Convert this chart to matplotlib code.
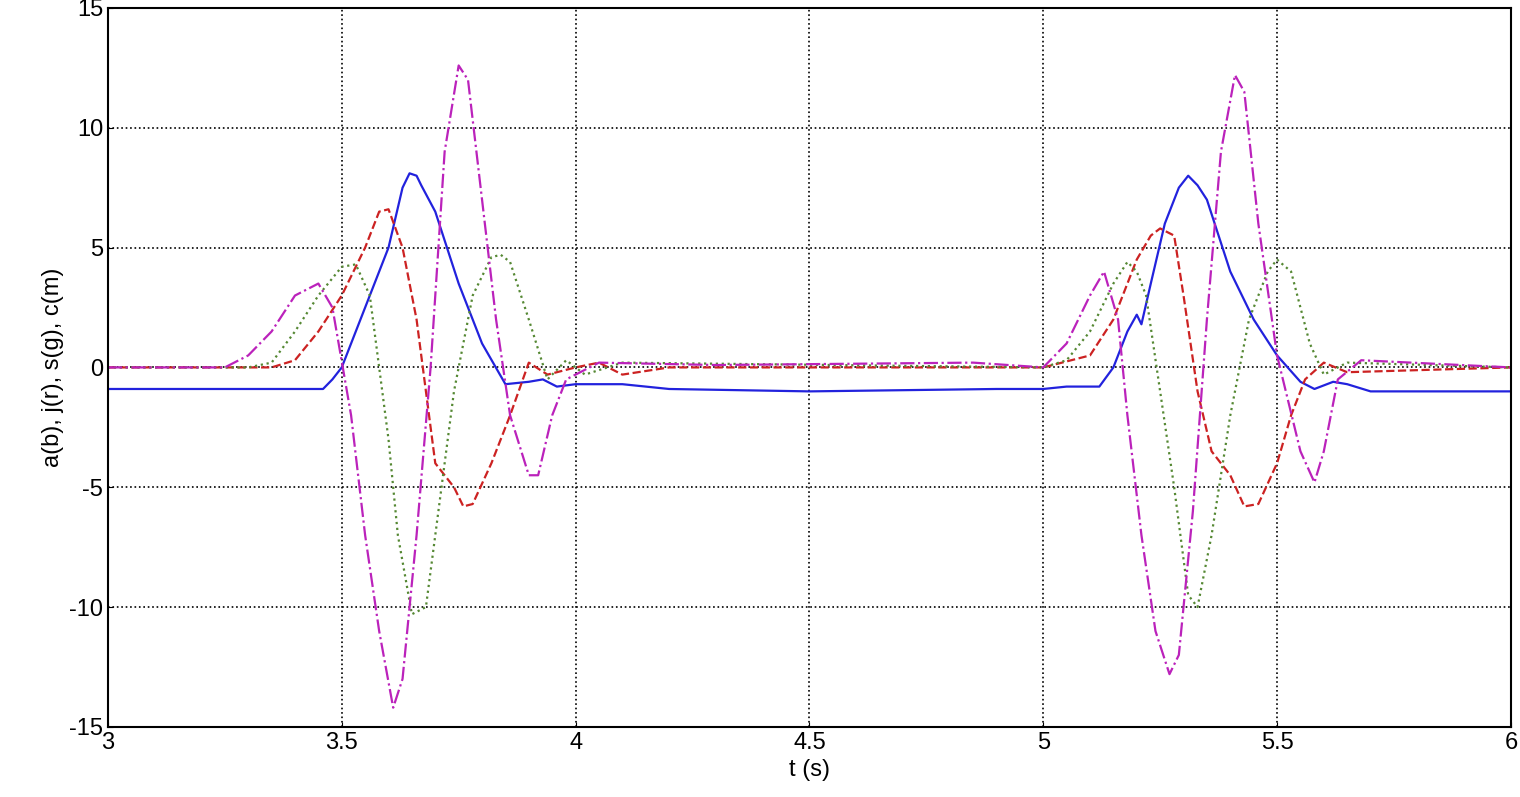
import matplotlib
matplotlib.use("Agg")
import matplotlib.pyplot as plt

plt.rcParams['font.family'] = ['Liberation Sans', 'DejaVu Sans']
plt.rcParams['axes.unicode_minus'] = False

# blue: a
a_t = [3.0, 3.46, 3.48, 3.5, 3.55, 3.6, 3.63, 3.645, 3.66, 3.67, 3.7, 3.75, 3.8, 3.85, 3.9, 3.93,
       3.96, 4.0, 4.1, 4.2, 4.5, 4.9, 5.0, 5.05, 5.12, 5.15, 5.18, 5.2, 5.21, 5.23, 5.26, 5.29,
       5.31, 5.33, 5.35, 5.4, 5.45, 5.5, 5.55, 5.58, 5.62, 5.65, 5.7, 6.0]
a_v = [-0.9, -0.9, -0.5, 0.0, 2.5, 5.0, 7.5, 8.1, 8.0, 7.6, 6.5, 3.5, 1.0, -0.7, -0.6, -0.5,
       -0.8, -0.7, -0.7, -0.9, -1.0, -0.9, -0.9, -0.8, -0.8, 0.0, 1.5, 2.2, 1.8, 3.5, 6.0, 7.5,
       8.0, 7.6, 7.0, 4.0, 2.0, 0.5, -0.6, -0.9, -0.6, -0.7, -1.0, -1.0]

# red: j
j_t = [3.0, 3.35, 3.4, 3.45, 3.5, 3.55, 3.58, 3.6, 3.63, 3.66, 3.68, 3.7, 3.74, 3.76, 3.78, 3.82,
       3.86, 3.9, 3.94, 4.0, 4.05, 4.1, 4.2, 5.0, 5.1, 5.15, 5.2, 5.23, 5.25, 5.28, 5.3, 5.33,
       5.36, 5.4, 5.43, 5.46, 5.5, 5.53, 5.56, 5.6, 5.65, 6.0]
j_v = [0.0, 0.0, 0.3, 1.5, 3.0, 5.0, 6.5, 6.6, 5.0, 2.0, -1.0, -4.0, -5.0, -5.8, -5.7, -4.0,
       -2.0, 0.2, -0.3, 0.0, 0.2, -0.3, 0.0, 0.0, 0.5, 2.0, 4.5, 5.5, 5.8, 5.5, 3.0, -1.0,
       -3.5, -4.5, -5.8, -5.7, -4.0, -2.0, -0.5, 0.2, -0.2, 0.0]

# green: s
s_t = [3.0, 3.3, 3.35, 3.4, 3.45, 3.5, 3.53, 3.56, 3.6, 3.62, 3.65, 3.68, 3.7, 3.74, 3.78, 3.82,
       3.84, 3.86, 3.9, 3.94, 3.98, 4.02, 4.1, 5.0, 5.05, 5.1, 5.15, 5.18, 5.2, 5.22, 5.25, 5.28,
       5.31, 5.33, 5.36, 5.4, 5.44, 5.48, 5.5, 5.53, 5.57, 5.6, 5.65, 6.0]
s_v = [0.0, 0.0, 0.2, 1.5, 3.0, 4.2, 4.3, 3.0, -3.0, -7.0, -10.3, -10.0, -7.0, -1.0, 3.0, 4.6,
       4.7, 4.4, 2.0, -0.5, 0.3, -0.3, 0.2, 0.0, 0.3, 1.5, 3.5, 4.4, 4.0, 3.0, -1.0, -5.0,
       -9.5, -10.0, -7.0, -2.0, 2.0, 4.0, 4.5, 4.0, 1.0, -0.3, 0.2, 0.0]

# magenta: c
c_t = [3.0, 3.25, 3.3, 3.35, 3.4, 3.45, 3.48, 3.52, 3.55, 3.58, 3.61, 3.63, 3.66, 3.69, 3.72, 3.75,
       3.77, 3.8, 3.83, 3.86, 3.9, 3.92, 3.95, 3.98, 4.05, 4.3, 4.85, 5.0, 5.05, 5.1, 5.13, 5.16,
       5.18, 5.21, 5.24, 5.27, 5.29, 5.32, 5.35, 5.38, 5.41, 5.43, 5.46, 5.5, 5.55, 5.58, 5.6,
       5.63, 5.68, 6.0]
c_v = [0.0, 0.0, 0.5, 1.5, 3.0, 3.5, 2.5, -2.0, -7.0, -11.0, -14.2, -13.0, -7.0, 0.0, 9.0, 12.6,
       12.0, 7.0, 2.0, -2.0, -4.5, -4.5, -2.0, -0.5, 0.2, 0.1, 0.2, 0.0, 1.0, 3.0, 4.0, 2.0,
       -2.0, -7.0, -11.0, -12.8, -12.0, -6.0, 2.0, 9.0, 12.2, 11.5, 6.0, 0.5, -3.5, -4.8, -3.5,
       -0.5, 0.3, 0.0]

fig = plt.figure(figsize=(15.2, 7.97), dpi=100)
ax = fig.add_axes([0.071, 0.088, 0.923, 0.902])

ax.plot(a_t, a_v, color='#2222dd', lw=1.6)
ax.plot(j_t, j_v, color='#cc2222', lw=1.6, linestyle='--')
ax.plot(s_t, s_v, color='#558833', lw=1.6, linestyle=':')
ax.plot(c_t, c_v, color='#bb22bb', lw=1.6, linestyle='-.')

ax.set_xlim(3, 6)
ax.set_ylim(-15, 15)
ax.set_xticks([3, 3.5, 4, 4.5, 5, 5.5, 6])
ax.set_xticklabels(['3', '3.5', '4', '4.5', '5', '5.5', '6'])
ax.set_yticks([-15, -10, -5, 0, 5, 10, 15])
ax.grid(True, color='black', linestyle=':', lw=1.2)
ax.tick_params(labelsize=17, direction='in')
for sp in ax.spines.values():
    sp.set_linewidth(1.5)
ax.set_xlabel('t (s)', fontsize=17)
ax.set_ylabel('a(b), j(r), s(g), c(m)', fontsize=17)

fig.savefig('out.png', dpi=100)
